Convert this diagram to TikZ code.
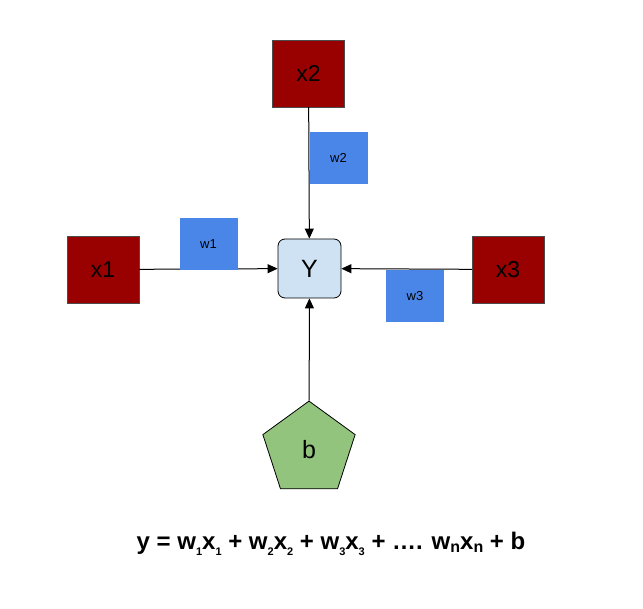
\documentclass[tikz,border=0pt]{standalone}
\usepackage{fontspec}
\setmainfont{Liberation Sans}
\usetikzlibrary{shapes.geometric,arrows.meta}
\definecolor{xred}{HTML}{990000}
\definecolor{wblue}{HTML}{4A86E8}
\definecolor{ybox}{HTML}{CFE2F3}
\definecolor{bgreen}{HTML}{93C47D}
\begin{document}
\begin{tikzpicture}[x=1pt,y=-1pt,
  xbox/.style={draw=black!70,line width=0.3pt,fill=xred,minimum width=72pt,minimum height=67pt,inner sep=0,font=\fontsize{23}{23}\selectfont},
  wbox/.style={fill=wblue,minimum width=58pt,minimum height=52pt,inner sep=0,font=\fontsize{13}{13}\selectfont},
  conn/.style={line width=1pt,-{Triangle[length=10pt,width=9pt]}}]
\useasboundingbox (0,0) rectangle (643,609);
\node[xbox] (x2) at (308.5,73.5) {x2};
\node[xbox] (x1) at (103,269.5) {x1};
\node[xbox] (x3) at (508,269.5) {x3};
\node[draw,line width=0.8pt,fill=ybox,rounded corners=7pt,minimum width=63pt,minimum height=59pt,inner sep=0,font=\fontsize{25}{25}\selectfont] (Y) at (309.5,268.5) {Y};
\node[draw,line width=0.8pt,fill=bgreen,regular polygon,regular polygon sides=5,minimum size=97pt,inner sep=0,font=\fontsize{25}{25}\selectfont] (b) at (309,449.6) {b};
\draw[conn] (x1) -- (Y);
\draw[conn] (x2) -- (Y);
\draw[conn] (x3) -- (Y);
\draw[conn] (b) -- (Y);
\node[wbox] (w1) at (208.5,244) {w1};
\node[wbox] (w2) at (338.5,158) {w2};
\node[wbox] (w3) at (415,296) {w3};
\node[font=\bfseries\fontsize{24}{24}\selectfont] (eq) at (331,544) {y = w\raisebox{-6pt}{\fontsize{11}{11}\selectfont 1}x\raisebox{-6pt}{\fontsize{11}{11}\selectfont 1} + w\raisebox{-6pt}{\fontsize{11}{11}\selectfont 2}x\raisebox{-6pt}{\fontsize{11}{11}\selectfont 2} + w\raisebox{-6pt}{\fontsize{11}{11}\selectfont 3}x\raisebox{-6pt}{\fontsize{11}{11}\selectfont 3} + …. w\raisebox{-3pt}{\fontsize{16}{16}\selectfont n}x\raisebox{-3pt}{\fontsize{16}{16}\selectfont n} + b};
\end{tikzpicture}
\end{document}
